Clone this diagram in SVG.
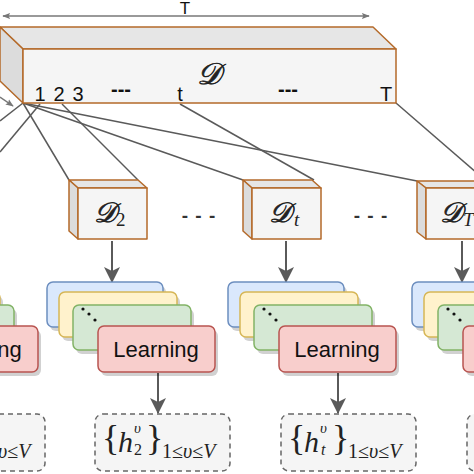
<svg xmlns="http://www.w3.org/2000/svg" width="474" height="474" viewBox="0 0 474 474">
<defs>
<style>
.box{stroke:#b46a2a;stroke-width:1.5;stroke-linejoin:round}
.front{fill:#f5f5f5}
.top{fill:#e6e6e6}
.side{fill:#dcdcdc}
.conn{stroke:#5a5a5a;stroke-width:1.5;fill:none}
.arr{stroke:#5a5a5a;stroke-width:2;fill:none}
.lab{font-family:"Liberation Sans",Arial,sans-serif;fill:#111}
.math{font-family:"Liberation Serif","DejaVu Serif",serif;fill:#222}
.cal{font-family:"Liberation Serif","DejaVu Serif",serif;fill:#222;stroke:#222;stroke-width:0.7}
.it{font-style:italic}
.shadow{fill:#000;opacity:0.18}
.blue{fill:#dae8fc;stroke:#6c8ebf;stroke-width:1.5}
.yellow{fill:#fff2cc;stroke:#d6b656;stroke-width:1.5}
.green{fill:#d5e8d4;stroke:#82b366;stroke-width:1.5}
.red{fill:#f8cecc;stroke:#b85450;stroke-width:1.5}
.dash{fill:#f5f5f5;stroke:#666;stroke-width:1.5;stroke-dasharray:5 4}
.dots{fill:#111}
.gap{font-family:"Liberation Sans",Arial,sans-serif;fill:#333;font-size:19px;font-weight:bold;letter-spacing:1px}
</style>
<marker id="big" viewBox="0 0 16 16" refX="15" refY="8" markerWidth="16" markerHeight="16" orient="auto" markerUnits="userSpaceOnUse">
<path d="M0,0 L16,8 L0,16 L4,8 z" fill="#5a5a5a"/>
</marker>
<marker id="thin" viewBox="0 0 10 10" refX="9" refY="5" markerWidth="8" markerHeight="8" orient="auto-start-reverse" markerUnits="userSpaceOnUse">
<path d="M0,1 L10,5 L0,9 L2,5 z" fill="#777"/>
</marker>
</defs>
<rect width="474" height="474" fill="#ffffff"/>

<!-- top dimension arrow -->
<g id="dimension">
<line x1="3" y1="16" x2="369" y2="16" stroke="#777" stroke-width="1.5" marker-start="url(#thin)" marker-end="url(#thin)"/>
<text class="lab" x="185" y="14" font-size="17" text-anchor="middle">T</text>
</g>

<!-- connectors -->
<g id="connectors">
<line class="conn" x1="23" y1="103" x2="0" y2="121"/>
<line class="conn" x1="40" y1="104" x2="0" y2="152"/>
<line class="conn" x1="23" y1="103" x2="69" y2="180"/>
<line class="conn" x1="62" y1="104" x2="138" y2="180"/>
<line class="conn" x1="23" y1="103" x2="243" y2="180"/>
<line class="conn" x1="23" y1="103" x2="417" y2="181"/>
<line class="conn" x1="180" y1="104" x2="314" y2="180"/>
<line class="conn" x1="396" y1="103" x2="486" y2="181"/>
<line x1="0" y1="97" x2="13" y2="106" stroke="#777" stroke-width="1.5" marker-end="url(#thin)"/>
<line class="arr" x1="112" y1="241" x2="112" y2="282" marker-end="url(#big)"/>
<line class="arr" x1="286" y1="241" x2="286" y2="282" marker-end="url(#big)"/>
<line class="arr" x1="462" y1="241" x2="462" y2="282" marker-end="url(#big)"/>
<line class="arr" x1="158" y1="373" x2="158" y2="413" marker-end="url(#big)"/>
<line class="arr" x1="338" y1="373" x2="338" y2="413" marker-end="url(#big)"/>
</g>

<!-- big dataset bar -->
<g id="dataset">
<polygon class="box top" points="0,27 373,27 396,49 23,49"/>
<polygon class="box side" points="0,27 23,49 23,103 0,81"/>
<rect class="box front" x="23" y="49" width="373" height="54"/>
<text class="cal it" x="209" y="84" font-size="30" text-anchor="middle">𝒟</text>
<text class="lab" x="40" y="101" font-size="20" text-anchor="middle">1</text>
<text class="lab" x="59" y="101" font-size="20" text-anchor="middle">2</text>
<text class="lab" x="78" y="101" font-size="20" text-anchor="middle">3</text>
<text class="lab" x="121" y="96" font-size="20" font-weight="bold" text-anchor="middle">---</text>
<text class="lab" x="180" y="101" font-size="20" text-anchor="middle">t</text>
<text class="lab" x="288" y="96" font-size="20" font-weight="bold" text-anchor="middle">---</text>
<text class="lab" x="386" y="101" font-size="20" text-anchor="middle">T</text>
</g>

<!-- small dataset boxes -->
<g id="D2">
<polygon class="box top" points="69,180 138,180 147,188 78,188"/>
<polygon class="box side" points="69,180 78,188 78,239 69,231"/>
<rect class="box front" x="78" y="188" width="69" height="51"/>
<text class="cal it" x="94" y="222" font-size="28">𝒟</text>
<text class="math" x="116" y="226" font-size="19">2</text>
</g>
<g id="Dt">
<polygon class="box top" points="243,180 312,180 321,188 252,188"/>
<polygon class="box side" points="243,180 252,188 252,239 243,231"/>
<rect class="box front" x="252" y="188" width="69" height="51"/>
<text class="cal it" x="269" y="222" font-size="28">𝒟</text>
<text class="math it" x="294" y="226" font-size="19">t</text>
</g>
<g id="DT">
<polygon class="box top" points="417,181 486,181 495,188 426,188"/>
<polygon class="box side" points="417,181 426,188 426,239 417,232"/>
<rect class="box front" x="426" y="188" width="69" height="51"/>
<text class="cal it" x="440" y="222" font-size="28">𝒟</text>
<text class="math it" x="463" y="226" font-size="19">T</text>
</g>
<g id="gaps">
<text class="gap" x="199" y="222" text-anchor="middle">- - -</text>
<text class="gap" x="371" y="222" text-anchor="middle">- - -</text>
</g>

<!-- learning stacks -->
<g id="learn1" transform="translate(-177,0)">
<rect class="shadow" x="50" y="286" width="116" height="45" rx="6"/>
<rect class="blue" x="47" y="282" width="116" height="45" rx="6"/>
<rect class="shadow" x="62" y="296" width="118" height="45" rx="6"/>
<rect class="yellow" x="59" y="292" width="118" height="45" rx="6"/>
<rect class="shadow" x="76" y="309" width="118" height="45" rx="6"/>
<rect class="green" x="73" y="305" width="118" height="45" rx="6"/>
<rect class="shadow" x="101" y="330" width="117" height="46" rx="6"/>
<rect class="red" x="98" y="326" width="117" height="46" rx="6"/>
<text class="lab" x="156" y="357" font-size="22" text-anchor="middle">Learning</text>
</g>
<g id="learn2">
<rect class="shadow" x="50" y="286" width="116" height="45" rx="6"/>
<rect class="blue" x="47" y="282" width="116" height="45" rx="6"/>
<rect class="shadow" x="62" y="296" width="118" height="45" rx="6"/>
<rect class="yellow" x="59" y="292" width="118" height="45" rx="6"/>
<rect class="shadow" x="76" y="309" width="118" height="45" rx="6"/>
<rect class="green" x="73" y="305" width="118" height="45" rx="6"/>
<circle class="dots" cx="83" cy="309" r="1.6"/>
<circle class="dots" cx="89" cy="314" r="1.6"/>
<circle class="dots" cx="95" cy="320" r="1.6"/>
<rect class="shadow" x="101" y="330" width="117" height="46" rx="6"/>
<rect class="red" x="98" y="326" width="117" height="46" rx="6"/>
<text class="lab" x="156" y="357" font-size="22" text-anchor="middle">Learning</text>
</g>
<g id="learn3" transform="translate(181,0)">
<rect class="shadow" x="50" y="286" width="116" height="45" rx="6"/>
<rect class="blue" x="47" y="282" width="116" height="45" rx="6"/>
<rect class="shadow" x="62" y="296" width="118" height="45" rx="6"/>
<rect class="yellow" x="59" y="292" width="118" height="45" rx="6"/>
<rect class="shadow" x="76" y="309" width="118" height="45" rx="6"/>
<rect class="green" x="73" y="305" width="118" height="45" rx="6"/>
<circle class="dots" cx="83" cy="309" r="1.6"/>
<circle class="dots" cx="89" cy="314" r="1.6"/>
<circle class="dots" cx="95" cy="320" r="1.6"/>
<rect class="shadow" x="101" y="330" width="117" height="46" rx="6"/>
<rect class="red" x="98" y="326" width="117" height="46" rx="6"/>
<text class="lab" x="156" y="357" font-size="22" text-anchor="middle">Learning</text>
</g>
<g id="learn4" transform="translate(365,0)">
<rect class="shadow" x="50" y="286" width="116" height="45" rx="6"/>
<rect class="blue" x="47" y="282" width="116" height="45" rx="6"/>
<rect class="shadow" x="62" y="296" width="118" height="45" rx="6"/>
<rect class="yellow" x="59" y="292" width="118" height="45" rx="6"/>
<rect class="shadow" x="76" y="309" width="118" height="45" rx="6"/>
<rect class="green" x="73" y="305" width="118" height="45" rx="6"/>
<circle class="dots" cx="83" cy="309" r="1.6"/>
<circle class="dots" cx="89" cy="314" r="1.6"/>
<circle class="dots" cx="95" cy="320" r="1.6"/>
<rect class="shadow" x="101" y="330" width="117" height="46" rx="6"/>
<rect class="red" x="98" y="326" width="117" height="46" rx="6"/>
</g>

<!-- outputs -->
<g id="out1" transform="translate(-185,0)">
<rect class="dash" x="95" y="414" width="135" height="57" rx="8"/>
<text class="math" x="162" y="458" font-size="20">1≤<tspan class="it">υ</tspan>≤<tspan class="it">V</tspan></text>
</g>
<g id="out2">
<rect class="dash" x="95" y="414" width="135" height="57" rx="8"/>
<text class="math" x="102" y="450" font-size="36">{</text>
<text class="math it" x="118" y="452" font-size="30">h</text>
<text class="math it" x="134" y="433" font-size="15">υ</text>
<text class="math" x="134" y="455" font-size="16">2</text>
<text class="math" x="146" y="450" font-size="36">}</text>
<text class="math" x="162" y="458" font-size="20">1≤<tspan class="it">υ</tspan>≤<tspan class="it">V</tspan></text>
</g>
<g id="out3" transform="translate(186,0)">
<rect class="dash" x="95" y="414" width="135" height="57" rx="8"/>
<text class="math" x="102" y="450" font-size="36">{</text>
<text class="math it" x="118" y="452" font-size="30">h</text>
<text class="math it" x="134" y="433" font-size="15">υ</text>
<text class="math it" x="135" y="455" font-size="16">t</text>
<text class="math" x="146" y="450" font-size="36">}</text>
<text class="math" x="162" y="458" font-size="20">1≤<tspan class="it">υ</tspan>≤<tspan class="it">V</tspan></text>
</g>
<g id="out4">
<rect class="dash" x="467" y="414" width="135" height="57" rx="8"/>
</g>
</svg>
